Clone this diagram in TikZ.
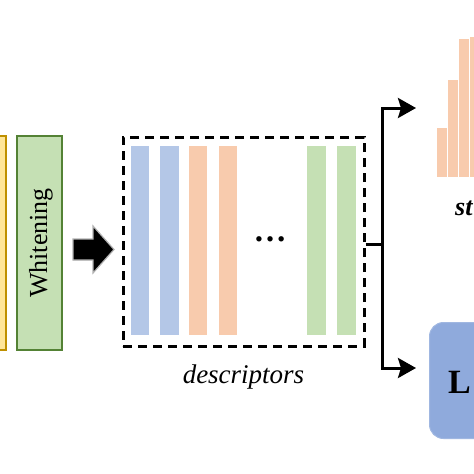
\documentclass[tikz,border=0pt]{standalone}
\usepackage{fontspec}
\setmainfont{Liberation Serif}
\usetikzlibrary{arrows.meta}
\definecolor{yfill}{HTML}{FFE699}
\definecolor{ydraw}{HTML}{BF9000}
\definecolor{gfill}{HTML}{C5E0B4}
\definecolor{gdraw}{HTML}{548235}
\definecolor{bbar}{HTML}{B4C7E7}
\definecolor{obar}{HTML}{F8CBAD}
\definecolor{lbox}{HTML}{8FAADC}
\begin{document}
\begin{tikzpicture}[x=1pt,y=-1pt,
  bar/.style={rectangle, inner sep=0pt, minimum width=18.5pt, minimum height=189pt, draw=none},
  hbar/.style={rectangle, inner sep=0pt, anchor=south west, minimum width=9.5pt, fill=obar, draw=none},
  conn/.style={line width=3pt, -{Stealth[length=18pt,width=20pt,inset=3pt]}},
  lbl/.style={font=\fontsize{26}{28}\selectfont}]
\useasboundingbox (0,0) rectangle (474,474);
\clip (0,0) rectangle (474,474);
\fill[white] (0,0) rectangle (474,474);

% left boxes
\node[rectangle, inner sep=0pt, fill=yfill, draw=ydraw, line width=2pt, minimum width=40pt, minimum height=214pt] (ybox) at (-14,243) {};
\node[rectangle, inner sep=0pt, fill=gfill, draw=gdraw, line width=2pt, minimum width=45pt, minimum height=214pt] (wbox) at (39.5,243) {};
\node[lbl, rotate=90] (wtext) at (41,243) {Whitening};

% block arrow
\fill[black, draw=gray!60, line width=1.2pt] (73,239) -- (93,239) -- (93,226) -- (114,249.5) -- (93,273) -- (93,260) -- (73,260) -- cycle;

% descriptors box
\node[rectangle, inner sep=0pt, draw=black, line width=3pt, dash pattern=on 9pt off 6pt, minimum width=241pt, minimum height=209pt] (desc) at (243.5,241.5) {};
\node[bar, fill=bbar] (b1) at (140,240.5) {};
\node[bar, fill=bbar] (b2) at (169.5,240.5) {};
\node[bar, fill=obar] (o1) at (198,240.5) {};
\node[bar, fill=obar] (o2) at (228,240.5) {};
\node[bar, fill=gfill] (g1) at (316.5,240.5) {};
\node[bar, fill=gfill] (g2) at (346.5,240.5) {};
\node[font=\fontsize{33}{33}\selectfont\bfseries] (dots) at (270,239) {…};
\node[font=\fontsize{27}{29}\selectfont\itshape] (desclbl) at (243.5,377) {descriptors};

% connectors
\coordinate (j) at (382,244);
\coordinate (top) at (416,108);
\coordinate (bot) at (416,368);
\draw[line width=3pt] (desc.east |- j) -- (j);
\draw[conn] (j) |- (top);
\draw[conn] (j) |- (bot);

% histogram
\node[hbar, minimum height=49pt] (h1) at (437,177) {};
\node[hbar, minimum height=97pt] (h2) at (448,177) {};
\node[hbar, minimum height=138pt] (h3) at (459,177) {};
\node[hbar, minimum height=140pt] (h4) at (469.5,177) {};
\node[anchor=base west, font=\fontsize{26}{28}\selectfont\bfseries\itshape, inner sep=0pt] (stlbl) at (455,215) {st};

% L box
\node[rectangle, rounded corners=14pt, inner sep=0pt, fill=lbox, draw=lbox!85!white, line width=1pt, minimum width=110pt, minimum height=116pt, anchor=north west] (lb) at (429,322) {};
\node[anchor=base west, font=\fontsize{34}{36}\selectfont\bfseries, inner sep=0pt] (ltext) at (448,393) {L};
\end{tikzpicture}
\end{document}
